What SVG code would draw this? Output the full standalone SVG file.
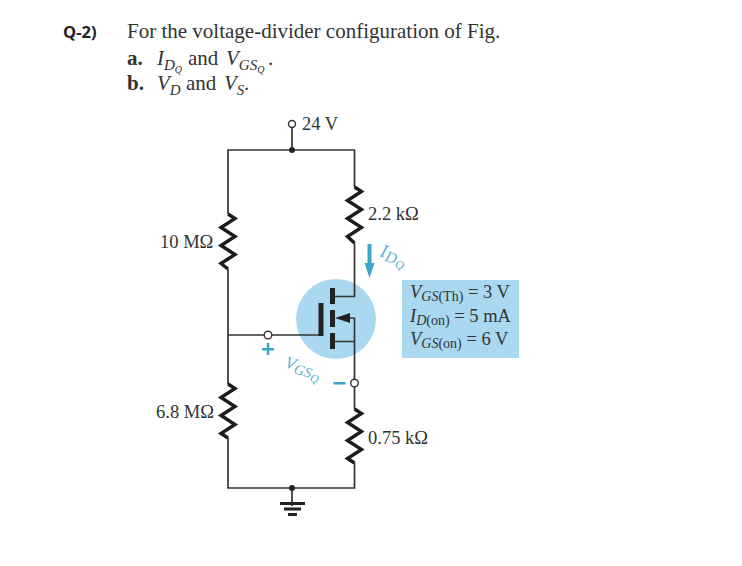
<svg xmlns="http://www.w3.org/2000/svg" width="742" height="566" viewBox="0 0 742 566">
<style>
.t{font-family:"Liberation Serif","Times New Roman",serif;fill:#333;font-size:21px}
.c{font-size:18.5px}
.p{font-size:18.5px}
.i{font-style:italic}
.b{font-weight:bold}
.s{font-size:15px}
.w{fill:none;stroke:#333;stroke-width:1.7}
.r{fill:none;stroke:#1c1c1c;stroke-width:3.4;stroke-linejoin:miter}
.o{fill:#fff;stroke:#333;stroke-width:1.4}
.k{fill:#222}
.bl{fill:#3aa5cc}
.blt{font-family:"Liberation Serif",serif;fill:#5cb3d1;font-style:italic}
</style>
<rect width="742" height="566" fill="#fff"/>
<g id="question">
<text x="63" y="38" font-family="'Open Sans','Liberation Sans',sans-serif" font-weight="bold" font-size="16.5" fill="#222">Q-2)</text>
<text class="t" x="127" y="38">For the voltage-divider configuration of Fig.</text>
<text class="t b" x="127" y="65">a.</text>
<text class="t i" x="157" y="65">I<tspan class="s" dy="5">D</tspan><tspan font-size="10" dy="3">Q</tspan></text>
<text class="t" x="188" y="65">and</text>
<text class="t i" x="226" y="65">V<tspan class="s" dy="5">GS</tspan><tspan font-size="10" dy="3">Q</tspan></text>
<text class="t" x="268" y="65">.</text>
<text class="t b" x="127" y="90">b.</text>
<text class="t i" x="157" y="90">V<tspan class="s" dy="5">D</tspan></text>
<text class="t" x="186" y="90">and</text>
<text class="t i" x="224" y="90">V<tspan class="s" dy="5">S</tspan></text>
<text class="t" x="244" y="90">.</text>
</g>
<g id="mosfet-highlight"><circle cx="336" cy="319" r="40" fill="#a9d8f0"/></g>
<g id="connectors">
<path class="w" d="M292 128V150M228 214V150H354.500V187M354.500 243V296.500H332M354.500 318V409M354.500 463V488H228V438M228 384V269M228 335H321M354.500 318H345M354.500 341.500H332M292 488V506"/>
</g>
<g id="r-10M"><path class="r" d="M228 214L235 218.500L221 227.500L235 236.500L221 245.500L235 254.500L221 263.500L228 269"/><text class="t c" x="160" y="248">10 MΩ</text></g>
<g id="r-6.8M"><path class="r" d="M228 384L235 388.500L221 397.500L235 406.500L221 415.500L235 424.500L221 433.500L228 438"/><text class="t c" x="156" y="418">6.8 MΩ</text></g>
<g id="r-2.2k"><path class="r" d="M354.500 187L361.500 191.500L347.500 200.500L361.500 209.500L347.500 218.500L361.500 227.500L347.500 236.500L354.500 243"/><text class="t c" x="368" y="220">2.2 kΩ</text></g>
<g id="r-0.75k"><path class="r" d="M354.500 409L361.500 413.500L347.500 422.500L361.500 431.500L347.500 440.500L361.500 449.500L347.500 458.500L354.500 463"/><text class="t c" x="368" y="444">0.75 kΩ</text></g>
<g id="mosfet">
<rect class="k" x="318.500" y="303" width="5" height="33"/>
<rect class="k" x="330" y="288" width="5" height="16"/>
<rect class="k" x="330" y="310" width="5" height="17"/>
<rect class="k" x="330" y="333" width="5" height="16"/>
<path class="k" d="M335 318L350 313V323Z"/>
</g>
<g id="supply"><circle class="o" cx="292" cy="124" r="3.500"/><circle class="k" cx="292" cy="150" r="3"/><text class="t c" x="302" y="130">24 V</text></g>
<g id="gate-terminal"><circle class="o" cx="268" cy="335" r="3.800"/></g>
<g id="source-terminal"><circle class="o" cx="354.500" cy="383" r="3.800"/></g>
<g id="ground"><circle class="k" cx="292" cy="488" r="3"/><rect class="k" x="280" y="502" width="25" height="3"/><rect class="k" x="284" y="507.500" width="17" height="3"/><rect class="k" x="288" y="513" width="9" height="3"/></g>
<g id="id-label">
<path class="bl" d="M367.500 244H371.500V263H374.500L369.500 278L364.500 263H367.500Z"/>
<text class="blt" font-size="19" transform="translate(379 256) rotate(18)">I<tspan font-size="16" dy="3">D</tspan><tspan font-size="12" dy="3">Q</tspan></text>
</g>
<g id="vgs-label">
<rect class="bl" x="262" y="348" width="12" height="2.500"/><rect class="bl" x="266.800" y="343" width="2.500" height="12"/>
<text class="blt" font-size="17" transform="translate(284 367) rotate(17)">V<tspan font-size="14.500" dy="3">GS</tspan><tspan font-size="11.500" dy="3">Q</tspan></text>
<rect class="bl" x="333.500" y="382" width="12" height="2.500"/>
</g>
<g id="params">
<rect x="402" y="280" width="117" height="78" fill="#a9d8f0"/>
<text class="t i p" x="410" y="298" style="font-size:18.5px">V<tspan font-size="14" dy="3">GS</tspan><tspan font-size="14" font-style="normal">(Th)</tspan><tspan font-style="normal" dy="-3"> = 3 V</tspan></text>
<text class="t i p" x="410" y="322" style="font-size:18.5px">I<tspan font-size="14" dy="3">D</tspan><tspan font-size="14" font-style="normal">(on)</tspan><tspan font-style="normal" dy="-3"> = 5 mA</tspan></text>
<text class="t i p" x="410" y="345" style="font-size:18.5px">V<tspan font-size="14" dy="3">GS</tspan><tspan font-size="14" font-style="normal">(on)</tspan><tspan font-style="normal" dy="-3"> = 6 V</tspan></text>
</g>
</svg>
